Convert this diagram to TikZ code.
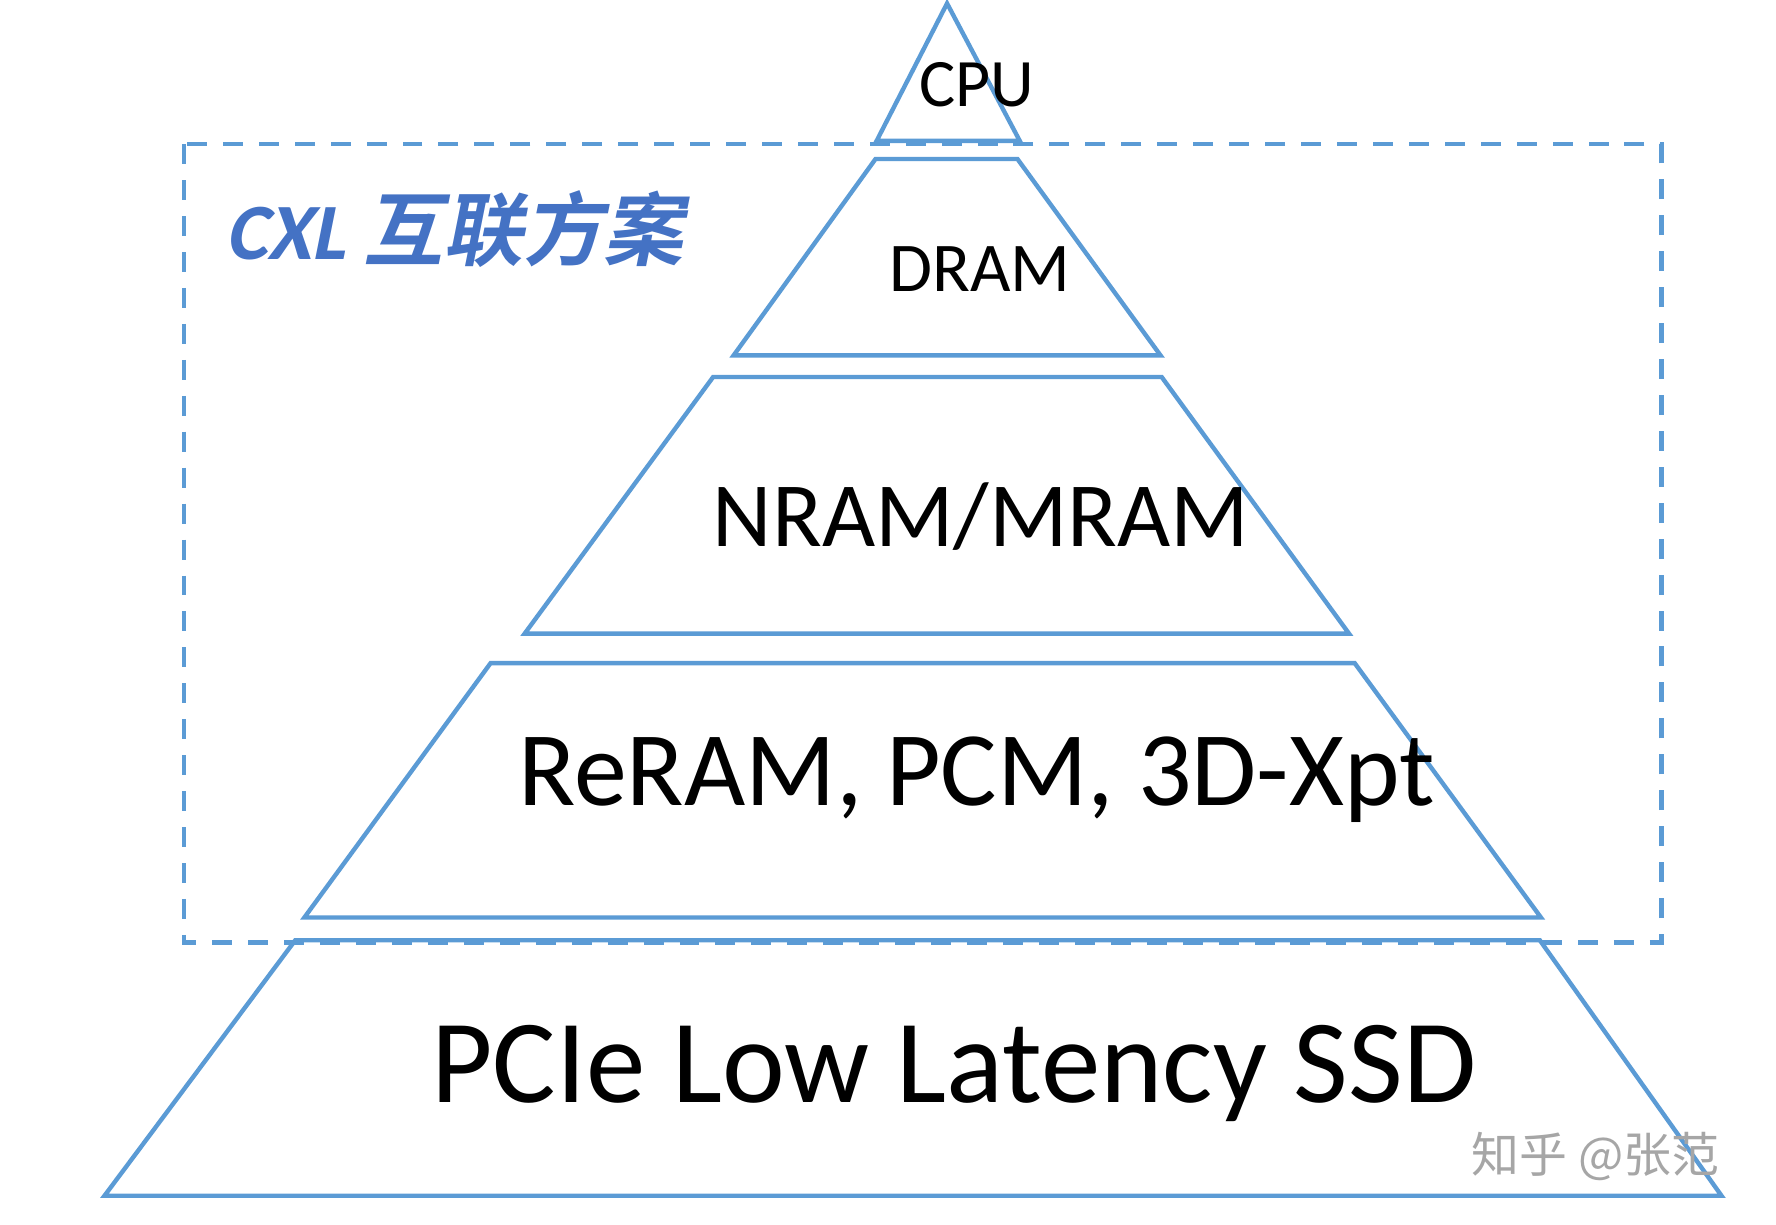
\documentclass[tikz,border=0pt]{standalone}
\usepackage{fontspec}
\setmainfont{Carlito}
\newfontfamily\cjk{Noto Sans CJK SC}
\newfontfamily\cjkb[FakeSlant=0.2]{Noto Sans CJK SC Bold}
\newfontfamily\carb[FakeSlant=0.2]{Carlito Bold}
\definecolor{lb}{RGB}{91,155,213}
\definecolor{tb}{RGB}{68,114,196}
\begin{document}
\begin{tikzpicture}[x=0.01cm,y=-0.01cm,
  tier/.style={draw=lb,line width=1.1pt,fill=white},
  lbl/.style={text=black,inner sep=0}]
\useasboundingbox (0,0) rectangle (1564,1078);
\draw[lb,line width=1.1pt,dash pattern=on 5pt off 4pt] (162,127) rectangle (1463,830);
\draw[tier] (834,3) -- (898,124) -- (772,124) -- cycle;
\draw[tier] (771,140) -- (896,140) -- (1022,313) -- (646,313) -- cycle;
\draw[tier] (628,332) -- (1023,332) -- (1188,558) -- (462,558) -- cycle;
\draw[tier] (432,584) -- (1193,584) -- (1357,808) -- (268,808) -- cycle;
\draw[tier,fill=none] (260,828) -- (1356,828) -- (1516,1053) -- (92,1053) -- cycle;
\node[lbl,font=\fontsize{17pt}{17pt}\selectfont] (cpu) at (860,75) {CPU};
\node[lbl,font=\fontsize{17.5pt}{17pt}\selectfont] (dram) at (863,237) {DRAM};
\node[lbl,font=\fontsize{23pt}{23pt}\selectfont] (nram) at (864,455) {NRAM/MRAM};
\node[lbl,font=\fontsize{26.5pt}{27pt}\selectfont] (reram) at (860,687) {ReRAM, PCM, 3D-Xpt};
\node[lbl,font=\fontsize{29.8pt}{30pt}\selectfont] (ssd) at (840,945) {PCIe Low Latency SSD};
\node[text=tb,inner sep=0] (cxl) at (400,202) {\fontsize{20pt}{20pt}\carb CXL \cjkb 互联方案};
\node[text=gray!70,inner sep=0] (wm) at (1405,1018) {\fontsize{12pt}{12pt}\cjk 知乎 @张范};
\end{tikzpicture}
\end{document}
